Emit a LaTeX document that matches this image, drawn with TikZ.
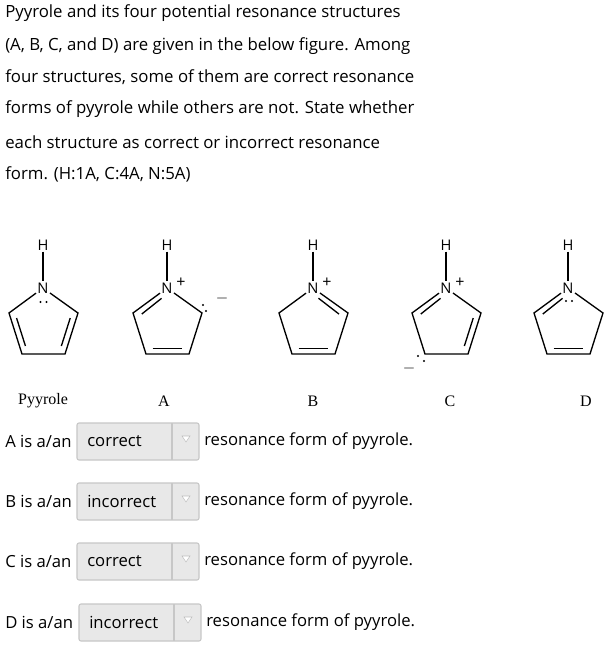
\documentclass[tikz,border=0pt]{standalone}
\usepackage{fontspec}
\setmainfont{Open Sans}
\newfontfamily\serifl{Liberation Serif}
\usetikzlibrary{calc}
\tikzset{
 bnd/.style={line width=1pt},
 inb/.style={line width=1pt,shorten <=1.9pt,shorten >=1.9pt},
 atm/.style={inner sep=0.9pt,font=\fontsize{11}{11}\selectfont},
 chg/.style={inner sep=0pt,font=\fontsize{12}{12}\selectfont},
 q/.style={anchor=west,inner sep=0,font=\fontsize{12.6}{14}\selectfont},
 lab/.style={inner sep=0,font=\serifl\fontsize{12}{14}\selectfont},
 row/.style={anchor=west,inner sep=0,font=\fontsize{12.5}{14}\selectfont},
 box/.style={draw=black!22,fill=black!9,rounded corners=1.5pt,line width=0.8pt},
 dot/.style={fill,circle,inner sep=0,minimum size=1.65pt},
}
\newcommand\ringat[2]{%
 \coordinate (#1c) at (#2,286);
 \node[atm] (#1N) at (#2,288) {N};
 \node[atm] (#1H) at (#2,245) {H};
 \coordinate (#1L) at (#2-34,313);
 \coordinate (#1BL) at (#2-21,354);
 \coordinate (#1BR) at (#2+22,354);
 \coordinate (#1R) at (#2+35,313);
 \coordinate (#1m) at (#2,326);
 \draw[bnd] (#1H) -- (#1N);
 \draw[bnd] (#1N) -- (#1L) -- (#1BL) -- (#1BR) -- (#1R) -- (#1N);
}
\newcommand\dbl[3]{\draw[inb] ($(#1#2)!0.2!(#1m)$) -- ($(#1#3)!0.2!(#1m)$);}
\begin{document}
\begin{tikzpicture}[x=0.75pt,y=-0.75pt]
\fill[white] (0,0) rectangle (609,646);
\node[q] (q1) at (5,13) {Pyyrole and its four potential resonance structures};
\node[q] (q2) at (5,46) {(A, B, C, and D) are given in the below figure. Among};
\node[q] (q3) at (5,77) {four structures, some of them are correct resonance};
\node[q] (q4) at (5,109) {forms of pyyrole while others are not. State whether};
\node[q] (q5) at (5,142) {each structure as correct or incorrect resonance};
\node[q] (q6) at (5,174) {form. (H:1A, C:4A, N:5A)};
% Pyrrole
\ringat{p}{43}
\dbl{p}{L}{BL}\dbl{p}{R}{BR}
\node[dot] (pd1) at (40.5,302) {};\node[dot] (pd2) at (46.5,302) {};
% A
\ringat{a}{167}
\draw[inb,shorten <=5.2pt] ($(ac)!0.2!(am)$) -- ($(aL)!0.2!(am)$);
\dbl{a}{BL}{BR}
\node[chg] (ap) at (181,283) {+};
\node[dot] (ad1) at (203,305) {};\node[dot] (ad2) at (206,311) {};
\node[chg] (amin) at (222,298) {$-$};
% B
\ringat{b}{313}
\draw[inb,shorten <=5.2pt] ($(bc)!0.2!(bm)$) -- ($(bR)!0.2!(bm)$);
\dbl{b}{BL}{BR}
\node[chg] (bp) at (327,283) {+};
% C
\ringat{c}{446}
\draw[inb,shorten <=5.2pt] ($(cc)!0.2!(cm)$) -- ($(cL)!0.2!(cm)$);
\dbl{c}{R}{BR}
\node[chg] (cp) at (460,283) {+};
\node[dot] (cd1) at (418,356) {};\node[dot] (cd2) at (424,361) {};
\node[chg] (cmn) at (409,368) {$-$};
% D
\ringat{d}{568}
\draw[inb,shorten <=5.2pt] ($(dc)!0.2!(dm)$) -- ($(dL)!0.2!(dm)$);
\dbl{d}{BL}{BR}
\node[dot] (dd1) at (566,301) {};\node[dot] (dd2) at (572,301) {};
% labels
\node[lab] (lp) at (43,401) {Pyyrole};
\node[lab] (la) at (164,401) {A};
\node[lab] (lb) at (313,401) {B};
\node[lab] (lc) at (450,401) {C};
\node[lab] (ld) at (586,401) {D};
% rows
\foreach \y/\l/\ans/\xb/\xe in {441/A/correct/77/199, 501/B/incorrect/77/199, 561/C/correct/77/199, 622/D/incorrect/79/201}{
 \node[row] (r\l) at (5,\y) {\l{} is a/an};
 \draw[box] (\xb,\y-18) rectangle (\xe,\y+19);
 \draw[black!22,line width=0.8pt] (\xe-27,\y-18) -- (\xe-27,\y+19);
 \node[row] (s\l) at (\xb+10,\y) {\ans};
 \fill[white,draw=black!25,line width=0.4pt] (\xe-17,\y-5) -- (\xe-9,\y-5) -- (\xe-13,\y+1) -- cycle;
 \node[row] (t\l) at (\xe+5,\y) {resonance form of pyyrole.};
}
\end{tikzpicture}
\end{document}
